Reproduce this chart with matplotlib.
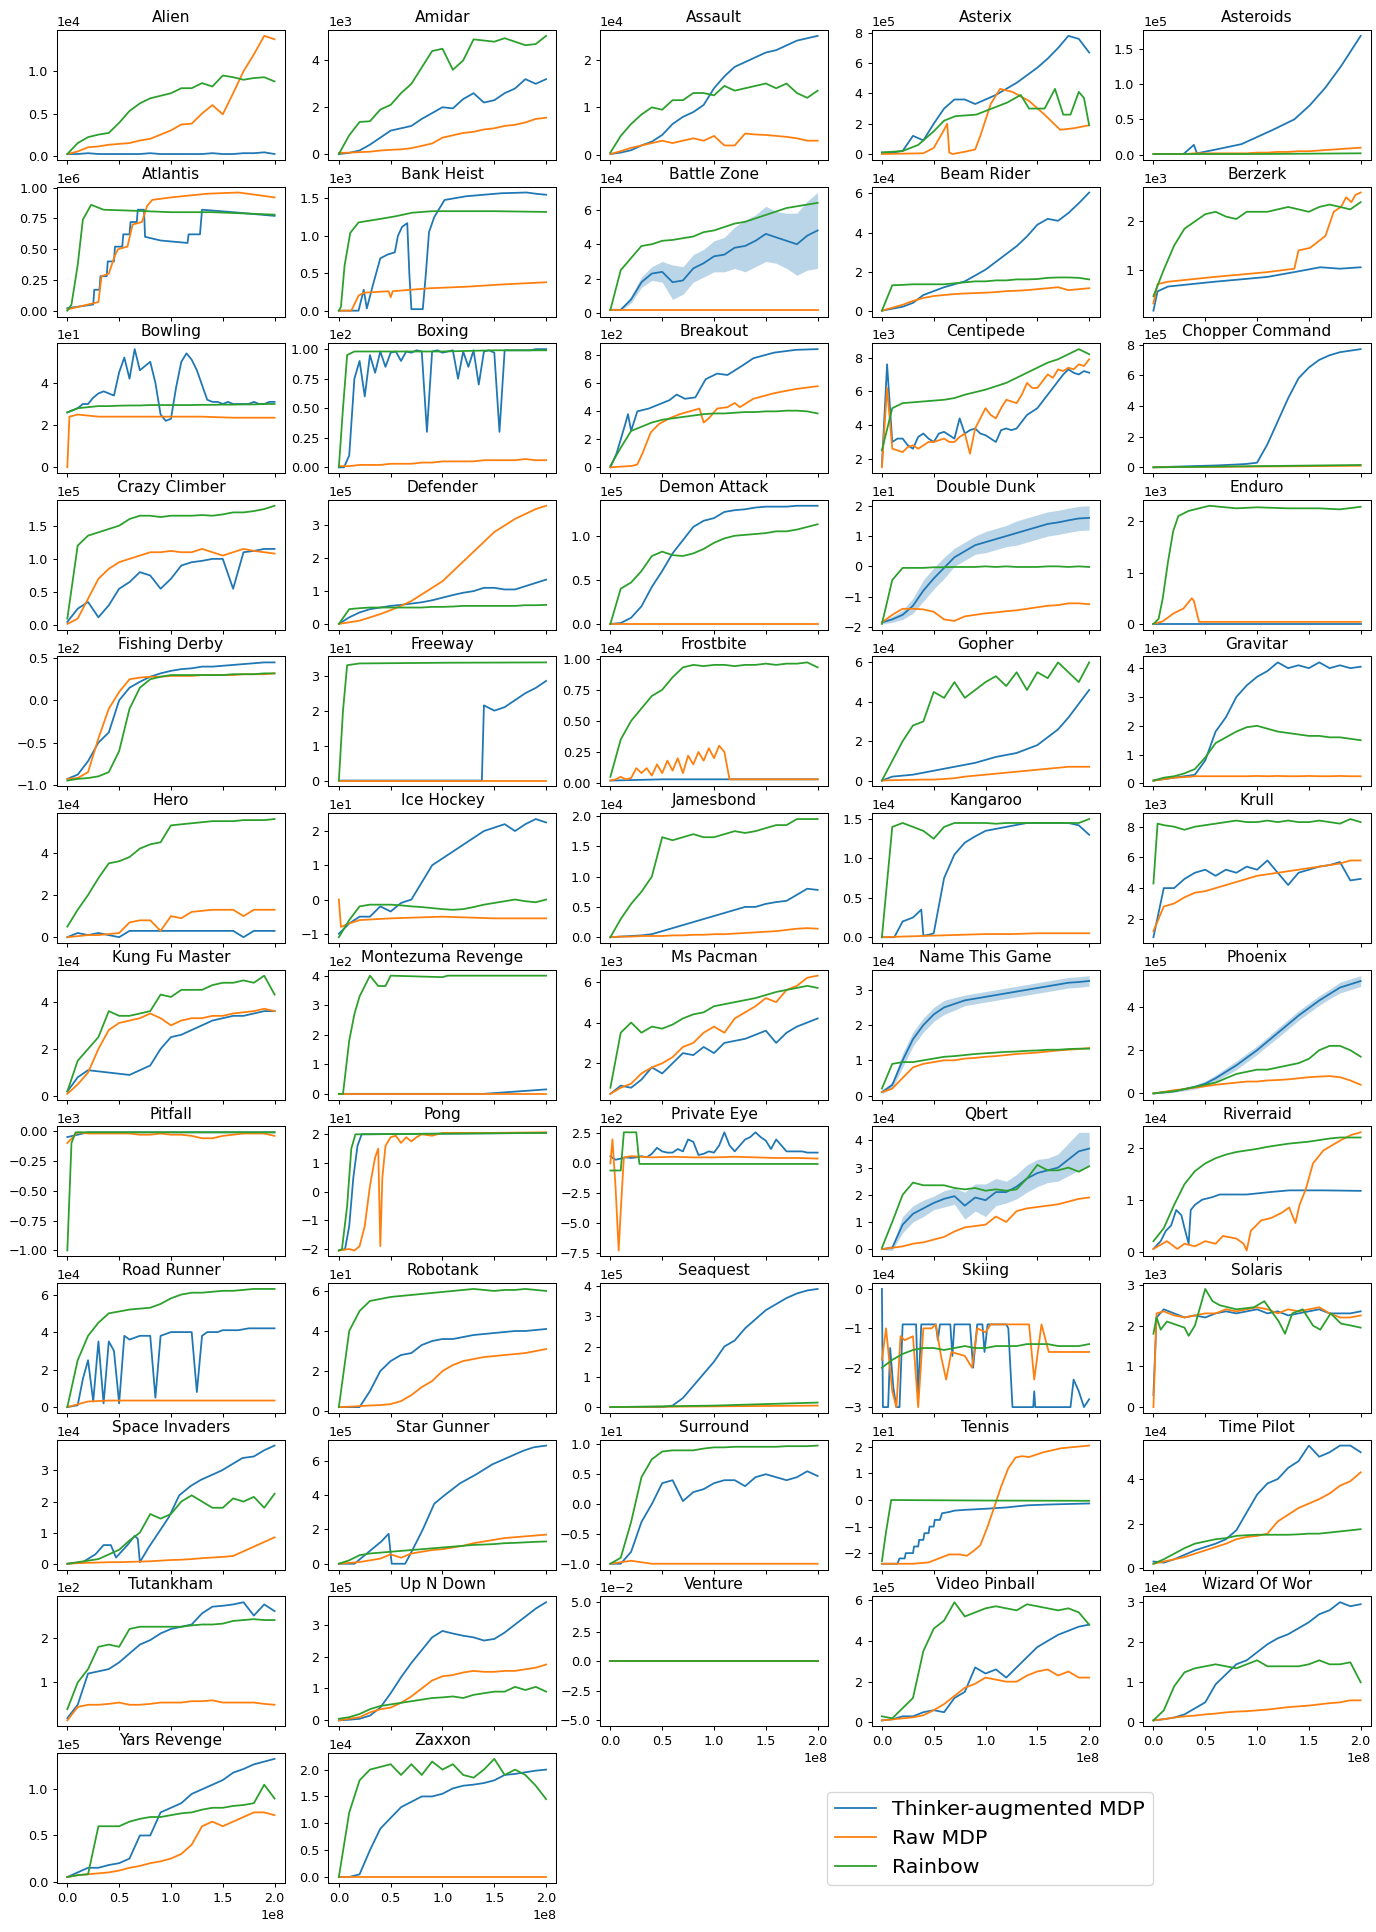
import numpy as np
import matplotlib
matplotlib.use("Agg")
import matplotlib.pyplot as plt

games = ["Alien", "Amidar", "Assault", "Asterix", "Asteroids",
         "Atlantis", "Bank Heist", "Battle Zone", "Beam Rider", "Berzerk",
         "Bowling", "Boxing", "Breakout", "Centipede", "Chopper Command",
         "Crazy Climber", "Defender", "Demon Attack", "Double Dunk", "Enduro",
         "Fishing Derby", "Freeway", "Frostbite", "Gopher", "Gravitar",
         "Hero", "Ice Hockey", "Jamesbond", "Kangaroo", "Krull",
         "Kung Fu Master", "Montezuma Revenge", "Ms Pacman", "Name This Game", "Phoenix",
         "Pitfall", "Pong", "Private Eye", "Qbert", "Riverraid",
         "Road Runner", "Robotank", "Seaquest", "Skiing", "Solaris",
         "Space Invaders", "Star Gunner", "Surround", "Tennis", "Time Pilot",
         "Tutankham", "Up N Down", "Venture", "Video Pinball", "Wizard Of Wor",
         "Yars Revenge", "Zaxxon"]

# scores below are written in units of 10**exp (the offset shown on each panel)
exps = [4, 3, 4, 5, 5,
        6, 3, 4, 4, 3,
        1, 2, 2, 3, 5,
        5, 5, 5, 1, 3,
        2, 1, 4, 4, 3,
        4, 1, 4, 4, 3,
        4, 2, 3, 4, 5,
        3, 1, 2, 4, 4,
        4, 1, 5, 4, 3,
        4, 5, 1, 1, 4,
        2, 5, -2, 5, 4,
        5, 4]

# plain lists are evenly spaced over 0..2e8 frames, (steps, values) pairs use steps in 1e8

alien_thinker = [0.02, 0.02, 0.03, 0.02, 0.02, 0.02, 0.02, 0.02, 0.03, 0.02, 0.02, 0.02, 0.02, 0.02, 0.03, 0.02, 0.02, 0.03, 0.03, 0.04, 0.02]
alien_raw = [0.02, 0.05, 0.1, 0.11, 0.13, 0.14, 0.15, 0.18, 0.2, 0.25, 0.3, 0.37, 0.38, 0.5, 0.6, 0.49, 0.74, 1.0, 1.2, 1.42, 1.38]
alien_rainbow = [0.02, 0.15, 0.22, 0.25, 0.27, 0.39, 0.53, 0.62, 0.68, 0.71, 0.74, 0.8, 0.8, 0.86, 0.82, 0.95, 0.93, 0.9, 0.92, 0.93, 0.88]

amidar_thinker = [0.0, 0.05, 0.15, 0.4, 0.7, 1.0, 1.1, 1.2, 1.5, 1.75, 2.0, 1.95, 2.35, 2.6, 2.2, 2.3, 2.6, 2.8, 3.2, 3.0, 3.2]
amidar_raw = [0.05, 0.06, 0.08, 0.1, 0.15, 0.18, 0.2, 0.25, 0.35, 0.45, 0.7, 0.8, 0.9, 0.95, 1.05, 1.1, 1.2, 1.25, 1.35, 1.5, 1.55]
amidar_rainbow = [0.0, 0.8, 1.37, 1.4, 1.9, 2.1, 2.6, 3.0, 3.7, 4.4, 4.5, 3.6, 4.0, 4.9, 4.85, 4.8, 4.95, 4.8, 4.65, 4.7, 5.05]

assault_thinker = [0.02, 0.05, 0.1, 0.2, 0.28, 0.42, 0.65, 0.8, 0.9, 1.05, 1.4, 1.65, 1.85, 1.95, 2.05, 2.15, 2.2, 2.3, 2.4, 2.45, 2.5]
assault_raw = [0.02, 0.08, 0.15, 0.2, 0.25, 0.3, 0.25, 0.3, 0.35, 0.3, 0.4, 0.2, 0.2, 0.45, 0.43, 0.42, 0.4, 0.38, 0.35, 0.3, 0.3]
assault_rainbow = [0.05, 0.4, 0.65, 0.85, 1.0, 0.95, 1.15, 1.15, 1.3, 1.3, 1.25, 1.45, 1.35, 1.4, 1.45, 1.5, 1.4, 1.5, 1.3, 1.2, 1.35]

asterix_thinker = [0.1, 0.1, 0.2, 1.2, 0.9, 2.0, 3.0, 3.6, 3.6, 3.3, 3.6, 3.9, 4.3, 4.7, 5.2, 5.7, 6.3, 7.0, 7.8, 7.6, 6.7]
asterix_raw_steps = [0, 0.4, 0.5, 0.6, 0.63, 0.65, 0.68, 0.8, 0.9, 0.95, 1.05, 1.14, 1.26, 1.42, 1.57, 1.72, 1.85, 2.0]
asterix_raw = [0.0, 0.05, 0.4, 1.6, 2.0, 0.1, 0.0, 0.15, 0.3, 1.2, 3.3, 4.3, 4.1, 3.5, 2.6, 1.6, 1.7, 1.9]
asterix_rainbow_steps = [0, 0.2, 0.35, 0.5, 0.6, 0.71, 0.91, 1.06, 1.21, 1.34, 1.42, 1.57, 1.67, 1.75, 1.82, 1.9, 1.95, 2.0]
asterix_rainbow = [0.1, 0.2, 0.6, 1.5, 2.2, 2.5, 2.6, 3.0, 3.4, 3.9, 3.0, 3.0, 4.3, 2.6, 2.6, 4.1, 3.7, 1.9]

asteroids_thinker_steps = [0, 0.29, 0.36, 0.39, 0.42, 0.59, 0.85, 1.0, 1.15, 1.36, 1.51, 1.66, 1.81, 2.0]
asteroids_thinker = [0.01, 0.01, 0.1, 0.14, 0.02, 0.07, 0.15, 0.25, 0.35, 0.5, 0.7, 0.95, 1.25, 1.68]
asteroids_raw = [0.01, 0.01, 0.01, 0.01, 0.02, 0.02, 0.02, 0.02, 0.02, 0.02, 0.03, 0.03, 0.04, 0.04, 0.05, 0.05, 0.06, 0.07, 0.08, 0.09, 0.1]
asteroids_rainbow = [0.01, 0.01, 0.01, 0.015, 0.02]

atlantis_thinker_steps = [0, 0.25, 0.26, 0.31, 0.32, 0.38, 0.39, 0.45, 0.46, 0.53, 0.54, 0.6, 0.61, 0.67,
                          0.68, 0.74, 0.75, 0.9, 1.16, 1.17, 1.28, 1.3, 1.6, 2.0]
atlantis_thinker = [0.02, 0.05, 0.17, 0.17, 0.28, 0.28, 0.4, 0.4, 0.52, 0.52, 0.62, 0.62, 0.72, 0.72,
                    0.82, 0.82, 0.6, 0.57, 0.55, 0.62, 0.62, 0.82, 0.8, 0.77]
atlantis_raw_steps = [0, 0.15, 0.3, 0.33, 0.4, 0.46, 0.49, 0.58, 0.63, 0.72, 0.77, 0.82, 1.0, 1.35, 1.65, 1.83, 2.0]
atlantis_raw = [0.01, 0.04, 0.07, 0.28, 0.3, 0.45, 0.5, 0.52, 0.7, 0.72, 0.85, 0.9, 0.92, 0.95, 0.96, 0.94, 0.92]
atlantis_rainbow_steps = [0, 0.04, 0.1, 0.15, 0.23, 0.35, 0.7, 1.0, 1.4, 1.7, 2.0]
atlantis_rainbow = [0.0, 0.05, 0.37, 0.74, 0.86, 0.82, 0.81, 0.8, 0.8, 0.79, 0.78]

bank_heist_thinker_steps = [0, 0.19, 0.24, 0.27, 0.33, 0.37, 0.4, 0.47, 0.54, 0.57, 0.61, 0.66, 0.68, 0.7,
                            0.81, 0.84, 0.87, 0.92, 1.02, 1.23, 1.57, 1.81, 1.92, 2.0]
bank_heist_thinker = [0.0, 0.0, 0.28, 0.03, 0.35, 0.55, 0.7, 0.75, 0.78, 1.0, 1.12, 1.17, 0.5, 0.02,
                      0.02, 0.5, 1.05, 1.25, 1.48, 1.53, 1.57, 1.58, 1.56, 1.55]
bank_heist_raw_steps = [0, 0.12, 0.19, 0.24, 0.48, 0.5, 0.52, 0.88, 1.23, 1.57, 2.0]
bank_heist_raw = [0.0, 0.0, 0.2, 0.24, 0.26, 0.18, 0.26, 0.3, 0.32, 0.35, 0.38]
bank_heist_rainbow_steps = [0, 0.02, 0.055, 0.11, 0.19, 0.37, 0.54, 0.71, 0.9, 1.5, 2.0]
bank_heist_rainbow = [0.0, 0.05, 0.6, 1.04, 1.18, 1.22, 1.26, 1.31, 1.33, 1.33, 1.32]

battle_zone_thinker = [0.2, 0.2, 0.8, 1.8, 2.3, 2.4, 1.8, 1.9, 2.6, 2.9, 3.3, 3.4, 3.8, 3.9, 4.2, 4.6, 4.4, 4.2, 4.0, 4.5, 4.8]
battle_zone_band = [0.0, 0.05, 0.2, 0.3, 0.4, 0.6, 1.0, 0.8, 0.8, 0.8, 0.9, 1.0, 1.2, 1.5, 1.5, 1.6, 1.5, 1.6, 1.8, 2.0, 2.2]
battle_zone_raw = [0.2, 0.2, 0.2, 0.2, 0.2]
battle_zone_rainbow = [0.2, 2.5, 3.2, 3.9, 4.0, 4.2, 4.25, 4.35, 4.45, 4.7, 4.8, 5.0, 5.2, 5.3, 5.5, 5.7, 5.9, 6.1, 6.2, 6.3, 6.4]

beam_rider_thinker = [0.0, 0.1, 0.2, 0.4, 0.8, 1.0, 1.2, 1.35, 1.5, 1.8, 2.1, 2.5, 2.9, 3.3, 3.8, 4.4, 4.7, 4.6, 5.0, 5.5, 6.05]
beam_rider_raw = [0.0, 0.15, 0.3, 0.5, 0.65, 0.75, 0.8, 0.85, 0.88, 0.9, 0.92, 0.95, 1.0, 1.02, 1.05, 1.1, 1.15, 1.2, 1.05, 1.1, 1.15]
beam_rider_rainbow = [0.0, 1.3, 1.32, 1.35, 1.35, 1.35, 1.35, 1.4, 1.45, 1.5, 1.5, 1.55, 1.55, 1.6, 1.6, 1.62, 1.68, 1.7, 1.7, 1.68, 1.6]

berzerk_thinker_steps = [0, 0.04, 0.14, 0.59, 0.85, 1.1, 1.36, 1.61, 1.8, 2.0]
berzerk_thinker = [0.15, 0.55, 0.65, 0.75, 0.8, 0.85, 0.95, 1.05, 1.02, 1.05]
berzerk_raw_steps = [0, 0.04, 0.14, 0.59, 0.85, 1.1, 1.36, 1.4, 1.51, 1.66, 1.74, 1.81, 1.86, 1.91, 1.95, 2.0]
berzerk_raw = [0.3, 0.7, 0.75, 0.85, 0.9, 0.95, 1.02, 1.4, 1.45, 1.7, 2.2, 2.3, 2.5, 2.4, 2.55, 2.6]
berzerk_rainbow = [0.45, 1.0, 1.5, 1.85, 2.0, 2.15, 2.2, 2.1, 2.05, 2.2, 2.2, 2.2, 2.25, 2.3, 2.25, 2.2, 2.3, 2.35, 2.3, 2.25, 2.4]

bowling_thinker = [2.6, 2.7, 2.8, 3.0, 3.0, 3.3, 3.5, 3.6, 3.5, 3.4,
                   4.5, 5.2, 4.2, 5.6, 4.6, 4.8, 5.0, 4.0, 2.5, 2.2,
                   2.3, 3.8, 5.0, 5.4, 5.1, 4.6, 3.9, 3.2, 3.1, 3.1,
                   3.0, 3.1, 3.0, 3.0, 3.0, 3.0, 3.1, 3.0, 3.0, 3.1,
                   3.1]
bowling_raw_steps = [0, 0.02, 0.1, 0.2, 0.3, 0.5, 0.7, 1.0, 1.3, 1.6, 2.0]
bowling_raw = [0.0, 2.4, 2.5, 2.45, 2.4, 2.4, 2.4, 2.4, 2.4, 2.35, 2.35]
bowling_rainbow = [2.6, 2.8, 2.85, 2.9, 2.9, 2.92, 2.93, 2.93, 2.95, 2.95, 2.95, 2.95, 2.95, 2.96, 2.96, 2.97, 2.97, 2.98, 2.98, 3.0, 3.0]

boxing_thinker = [0.0, 0.0, 0.1, 0.75, 0.9, 0.6, 0.95, 0.8, 0.98, 0.85,
                  0.97, 0.98, 0.9, 0.98, 0.97, 0.99, 0.98, 0.3, 0.98, 0.99,
                  0.97, 0.98, 0.99, 0.75, 0.98, 0.85, 0.99, 0.7, 0.98, 0.99,
                  0.97, 0.3, 0.99, 0.99, 0.99, 0.99, 0.99, 0.99, 1.0, 1.0,
                  1.0]
boxing_raw = [0.01, 0.01, 0.02, 0.02, 0.02, 0.03, 0.03, 0.03, 0.04, 0.04, 0.05, 0.05, 0.05, 0.05, 0.06, 0.06, 0.06, 0.06, 0.07, 0.06, 0.06]
boxing_rainbow_steps = [0, 0.04, 0.08, 0.15, 0.5, 1.0, 1.5, 2.0]
boxing_rainbow = [0.0, 0.5, 0.95, 0.98, 0.98, 0.98, 0.99, 0.99]

breakout_thinker_steps = [0, 0.06, 0.14, 0.17, 0.2, 0.26, 0.37, 0.47, 0.57, 0.64, 0.72, 0.82, 0.92, 1.03, 1.13, 1.28, 1.38, 1.58, 1.79, 2.0]
breakout_thinker = [0.0, 1.0, 3.0, 3.8, 2.6, 4.0, 4.2, 4.5, 4.8, 5.2, 4.9, 5.0, 6.3, 6.7, 6.6, 7.3, 7.8, 8.2, 8.4, 8.45]
breakout_raw_steps = [0, 0.21, 0.26, 0.31, 0.39, 0.47, 0.57, 0.67, 0.86, 0.9, 0.95, 1.03, 1.13, 1.2, 1.25, 1.38, 1.58, 1.79, 2.0]
breakout_raw = [0.0, 0.1, 0.2, 1.0, 2.5, 3.1, 3.5, 3.8, 4.2, 3.2, 3.5, 4.2, 4.3, 4.6, 4.3, 4.9, 5.3, 5.6, 5.8]
breakout_rainbow = [0.1, 1.4, 2.6, 2.9, 3.2, 3.4, 3.5, 3.6, 3.7, 3.8, 3.85, 3.85, 3.9, 3.95, 3.95, 4.0, 4.0, 4.05, 4.05, 4.0, 3.85]

centipede_thinker = [1.6, 7.6, 3.0, 3.2, 3.2, 2.8, 2.6, 3.3, 3.5, 3.2,
                     3.0, 3.5, 3.6, 3.4, 3.2, 4.4, 3.5, 3.7, 3.8, 3.5,
                     3.4, 3.2, 3.0, 3.7, 3.8, 3.7, 3.8, 4.2, 4.6, 4.8,
                     5.0, 5.4, 5.8, 6.2, 6.6, 7.0, 7.3, 7.1, 7.0, 7.2,
                     7.1]
centipede_raw = [1.5, 6.2, 2.6, 2.5, 2.4, 2.7, 2.8, 2.6, 2.8, 3.0,
                 3.0, 3.1, 3.2, 3.0, 3.0, 3.3, 3.5, 2.3, 3.8, 4.4,
                 5.0, 4.6, 4.4, 5.0, 5.5, 5.4, 5.3, 5.8, 6.5, 6.2,
                 6.2, 6.6, 7.0, 6.8, 7.3, 7.2, 7.4, 7.3, 7.6, 7.5,
                 7.9]
centipede_rainbow = [2.5, 5.0, 5.3, 5.35, 5.4, 5.45, 5.5, 5.6, 5.8, 5.95, 6.1, 6.3, 6.5, 6.8, 7.1, 7.4, 7.7, 7.9, 8.2, 8.5, 8.2]

chopper_thinker = [0.0, 0.02, 0.04, 0.06, 0.08, 0.1, 0.12, 0.15, 0.18, 0.22, 0.3, 1.5, 3.0, 4.5, 5.8, 6.5, 7.0, 7.3, 7.5, 7.6, 7.7]
chopper_raw = [0.0, 0.02, 0.04, 0.06, 0.08, 0.1]
chopper_rainbow = [0.0, 0.03, 0.06, 0.09, 0.12, 0.15]

crazy_climber_thinker = [0.05, 0.25, 0.35, 0.12, 0.3, 0.55, 0.65, 0.8, 0.75, 0.55, 0.7, 0.9, 0.95, 0.97, 1.0, 1.0, 0.55, 1.1, 1.12, 1.15, 1.15]
crazy_climber_raw = [0.02, 0.1, 0.4, 0.7, 0.85, 0.95, 1.0, 1.05, 1.1, 1.1, 1.12, 1.1, 1.1, 1.15, 1.1, 1.05, 1.1, 1.15, 1.12, 1.1, 1.08]
crazy_climber_rainbow = [0.1, 1.2, 1.35, 1.4, 1.45, 1.5, 1.6, 1.65, 1.65, 1.63, 1.65, 1.65, 1.65, 1.66, 1.65, 1.67, 1.7, 1.7, 1.72, 1.75, 1.8]

defender_thinker = [0.0, 0.2, 0.35, 0.45, 0.5, 0.55, 0.58, 0.62, 0.66, 0.72, 0.8, 0.88, 0.95, 1.0, 1.1, 1.1, 1.05, 1.05, 1.15, 1.25, 1.35]
defender_raw = [0.0, 0.05, 0.1, 0.2, 0.3, 0.42, 0.55, 0.7, 0.9, 1.1, 1.3, 1.6, 1.9, 2.2, 2.5, 2.8, 3.0, 3.2, 3.35, 3.5, 3.6]
defender_rainbow = [0.0, 0.45, 0.48, 0.5, 0.5, 0.5, 0.5, 0.5, 0.5, 0.52, 0.52, 0.53, 0.55, 0.55, 0.55, 0.55, 0.55, 0.55, 0.57, 0.57, 0.58]

demon_attack_thinker = [0.0, 0.01, 0.07, 0.2, 0.42, 0.6, 0.8, 0.95, 1.1, 1.17, 1.2, 1.27, 1.29, 1.3, 1.32, 1.33, 1.33, 1.33, 1.34, 1.34, 1.34]
demon_attack_raw = [0.0, 0.0, 0.0, 0.0, 0.0]
demon_attack_rainbow = [0.0, 0.4, 0.47, 0.6, 0.77, 0.82, 0.78, 0.77, 0.8, 0.85, 0.92, 0.97, 1.0, 1.01, 1.02, 1.03, 1.05, 1.05, 1.07, 1.1, 1.13]

double_dunk_thinker = [-1.85, -1.75, -1.6, -1.3, -0.8, -0.4, -0.05, 0.3, 0.5, 0.7, 0.8, 0.9, 1.0, 1.1, 1.2, 1.3, 1.4, 1.45, 1.52, 1.58, 1.6]
double_dunk_band = [0.05, 0.1, 0.15, 0.25, 0.35, 0.35, 0.35, 0.3, 0.3, 0.3, 0.35, 0.35, 0.35, 0.4, 0.4, 0.4, 0.4, 0.4, 0.4, 0.4, 0.4]
double_dunk_raw = [-1.85, -1.6, -1.4, -1.4, -1.42, -1.5, -1.75, -1.8, -1.65, -1.6, -1.55, -1.52, -1.48, -1.45, -1.4, -1.35, -1.3, -1.28, -1.22, -1.22, -1.25]
double_dunk_rainbow = [-1.9, -0.45, -0.05, -0.05, -0.05, -0.03, -0.03, -0.02, -0.02, -0.02, 0.0, -0.02, 0.0, -0.02, -0.02, -0.02, 0.0, 0.0, -0.02, 0.0, -0.02]

enduro_thinker = [0.0, 0.0, 0.0, 0.0, 0.0]
enduro_raw_steps = [0, 0.09, 0.19, 0.29, 0.37, 0.39, 0.44, 2.0]
enduro_raw = [0.0, 0.05, 0.2, 0.3, 0.5, 0.45, 0.04, 0.04]
enduro_rainbow_steps = [0, 0.05, 0.09, 0.14, 0.19, 0.24, 0.34, 0.54, 0.8, 1.0, 1.3, 1.6, 1.8, 2.0]
enduro_rainbow = [0.0, 0.1, 0.5, 1.2, 1.8, 2.1, 2.2, 2.3, 2.25, 2.27, 2.25, 2.25, 2.23, 2.28]

fishing_derby_thinker = [-0.93, -0.88, -0.72, -0.5, -0.38, 0.0, 0.15, 0.22, 0.28, 0.32, 0.35, 0.37, 0.38, 0.4, 0.4, 0.41, 0.42, 0.43, 0.44, 0.45, 0.45]
fishing_derby_raw = [-0.93, -0.92, -0.85, -0.45, -0.1, 0.1, 0.25, 0.27, 0.28, 0.28, 0.29, 0.29, 0.29, 0.3, 0.3, 0.3, 0.3, 0.31, 0.31, 0.31, 0.32]
fishing_derby_rainbow = [-0.95, -0.93, -0.92, -0.9, -0.85, -0.6, -0.1, 0.15, 0.25, 0.28, 0.3, 0.3, 0.3, 0.3, 0.3, 0.3, 0.31, 0.31, 0.31, 0.32, 0.32]

freeway_thinker_steps = [0, 1.38, 1.4, 1.5, 1.6, 1.7, 1.8, 1.9, 2.0]
freeway_thinker = [0.0, 0.0, 2.15, 2.0, 2.1, 2.3, 2.5, 2.65, 2.85]
freeway_raw = [0.0, 0.0, 0.0, 0.0, 0.0]
freeway_rainbow_steps = [0, 0.04, 0.08, 0.2, 1.0, 2.0]
freeway_rainbow = [0.0, 2.0, 3.3, 3.35, 3.37, 3.38]

frostbite_thinker = [0.02, 0.03, 0.03, 0.03, 0.03]
frostbite_raw_steps = [0, 0.05, 0.1, 0.15, 0.2, 0.25, 0.3, 0.35, 0.4, 0.45, 0.5, 0.55, 0.6, 0.65, 0.7,
                       0.75, 0.8, 0.85, 0.9, 0.95, 1.0, 1.05, 1.1, 1.15, 2.0]
frostbite_raw = [0.02, 0.03, 0.05, 0.03, 0.04, 0.12, 0.08, 0.12, 0.06, 0.15, 0.08, 0.18, 0.1, 0.2, 0.08,
                 0.22, 0.15, 0.25, 0.18, 0.28, 0.2, 0.3, 0.25, 0.03, 0.03]
frostbite_rainbow = [0.05, 0.35, 0.5, 0.6, 0.7, 0.75, 0.85, 0.93, 0.95, 0.94, 0.95, 0.95, 0.94, 0.95, 0.95, 0.96, 0.95, 0.96, 0.96, 0.97, 0.93]

gopher_thinker = [0.0, 0.2, 0.25, 0.3, 0.4, 0.5, 0.6, 0.7, 0.8, 0.9, 1.05, 1.2, 1.3, 1.4, 1.6, 1.8, 2.2, 2.6, 3.2, 3.9, 4.6]
gopher_raw = [0.0, 0.02, 0.03, 0.04, 0.05, 0.05, 0.08, 0.12, 0.2, 0.25, 0.3, 0.35, 0.4, 0.45, 0.5, 0.55, 0.6, 0.65, 0.7, 0.7, 0.7]
gopher_rainbow = [0.0, 1.0, 2.0, 2.8, 3.0, 4.5, 4.2, 5.0, 4.2, 4.6, 5.0, 5.3, 4.8, 5.5, 4.6, 5.5, 5.2, 6.0, 5.5, 5.0, 6.0]

gravitar_thinker = [0.1, 0.15, 0.2, 0.25, 0.3, 0.8, 1.8, 2.3, 3.0, 3.4, 3.7, 3.9, 4.2, 4.0, 4.1, 4.0, 4.2, 4.0, 4.1, 4.0, 4.05]
gravitar_raw = [0.1, 0.15, 0.2, 0.22, 0.25, 0.25, 0.25, 0.25, 0.25, 0.25, 0.26, 0.25, 0.26, 0.25, 0.25, 0.26, 0.25, 0.25, 0.26, 0.25, 0.25]
gravitar_rainbow = [0.1, 0.2, 0.25, 0.35, 0.5, 0.9, 1.4, 1.6, 1.8, 1.95, 2.0, 1.9, 1.8, 1.75, 1.7, 1.65, 1.65, 1.6, 1.6, 1.55, 1.5]

hero_thinker = [0.0, 0.2, 0.1, 0.2, 0.1, 0.0, 0.3, 0.3, 0.3, 0.3, 0.3, 0.3, 0.3, 0.3, 0.3, 0.3, 0.3, 0.0, 0.3, 0.3, 0.3]
hero_raw = [0.0, 0.05, 0.1, 0.1, 0.15, 0.2, 0.7, 0.8, 0.8, 0.3, 1.0, 0.9, 1.2, 1.25, 1.3, 1.3, 1.3, 1.0, 1.3, 1.3, 1.3]
hero_rainbow = [0.5, 1.3, 2.0, 2.8, 3.5, 3.6, 3.8, 4.2, 4.4, 4.5, 5.3, 5.35, 5.4, 5.45, 5.5, 5.5, 5.5, 5.55, 5.55, 5.55, 5.6]

ice_hockey_thinker = [-1.0, -0.7, -0.5, -0.5, -0.2, -0.35, -0.1, 0.0, 0.5, 1.0, 1.2, 1.4, 1.6, 1.8, 2.0, 2.1, 2.2, 2.0, 2.2, 2.35, 2.25]
ice_hockey_raw_steps = [0, 0.02, 0.1, 0.2, 0.5, 1.0, 1.5, 2.0]
ice_hockey_raw = [0.0, -0.8, -0.7, -0.6, -0.55, -0.5, -0.55, -0.55]
ice_hockey_rainbow = [-1.1, -0.6, -0.2, -0.15, -0.15, -0.15, -0.17, -0.2, -0.22, -0.25, -0.28, -0.3, -0.28, -0.22, -0.15, -0.1, -0.05, 0.0, -0.05, -0.08, 0.0]

jamesbond_thinker = [0.0, 0.01, 0.02, 0.03, 0.05, 0.1, 0.15, 0.2, 0.25, 0.3, 0.35, 0.4, 0.45, 0.5, 0.5, 0.55, 0.58, 0.6, 0.7, 0.8, 0.78]
jamesbond_raw = [0.0, 0.01, 0.01, 0.02, 0.02, 0.02, 0.03, 0.03, 0.04, 0.04, 0.05, 0.05, 0.06, 0.07, 0.08, 0.09, 0.1, 0.12, 0.14, 0.15, 0.14]
jamesbond_rainbow = [0.0, 0.3, 0.55, 0.75, 1.0, 1.65, 1.6, 1.65, 1.7, 1.65, 1.65, 1.7, 1.75, 1.72, 1.75, 1.8, 1.85, 1.85, 1.95, 1.95, 1.95]

kangaroo_thinker_steps = [0, 0.12, 0.2, 0.3, 0.38, 0.4, 0.45, 0.5, 0.55, 0.6, 0.65, 0.7, 0.8, 0.9, 1.0, 1.2, 1.4, 1.6, 1.8, 1.9, 2.0]
kangaroo_thinker = [0.0, 0.0, 0.2, 0.25, 0.35, 0.02, 0.03, 0.05, 0.4, 0.75, 0.9, 1.05, 1.2, 1.28, 1.35, 1.4, 1.45, 1.45, 1.45, 1.42, 1.3]
kangaroo_raw = [0.0, 0.01, 0.02, 0.03, 0.04, 0.04, 0.05, 0.05, 0.05]
kangaroo_rainbow = [0.0, 1.4, 1.45, 1.4, 1.35, 1.25, 1.4, 1.45, 1.45, 1.45, 1.45, 1.44, 1.45, 1.45, 1.45, 1.45, 1.45, 1.45, 1.45, 1.45, 1.5]

krull_thinker = [0.8, 4.0, 4.0, 4.6, 5.0, 5.2, 4.8, 5.2, 5.0, 5.4, 5.2, 5.8, 5.0, 4.2, 5.0, 5.2, 5.4, 5.5, 5.7, 4.5, 4.6]
krull_raw = [1.2, 2.8, 3.0, 3.4, 3.7, 3.8, 4.0, 4.2, 4.4, 4.6, 4.8, 4.9, 5.0, 5.1, 5.2, 5.3, 5.4, 5.5, 5.6, 5.8, 5.8]
krull_rainbow_steps = [0, 0.04, 0.1, 0.2, 0.3, 0.4, 0.5, 0.6, 0.7, 0.8, 0.9, 1.0, 1.1, 1.2, 1.3, 1.4, 1.5, 1.6, 1.7, 1.8, 1.9, 2.0]
krull_rainbow = [4.3, 8.2, 8.1, 8.0, 7.8, 8.0, 8.1, 8.2, 8.3, 8.4, 8.3, 8.3, 8.4, 8.3, 8.4, 8.3, 8.3, 8.4, 8.3, 8.2, 8.5, 8.3]

kung_fu_thinker = [0.2, 0.8, 1.1, 1.05, 1.0, 0.95, 0.9, 1.1, 1.3, 2.0, 2.5, 2.6, 2.8, 3.0, 3.2, 3.3, 3.4, 3.4, 3.5, 3.6, 3.6]
kung_fu_raw = [0.1, 0.5, 1.0, 2.0, 2.8, 3.1, 3.2, 3.3, 3.5, 3.3, 3.0, 3.2, 3.3, 3.3, 3.4, 3.4, 3.5, 3.55, 3.6, 3.7, 3.6]
kung_fu_rainbow = [0.2, 1.5, 2.0, 2.5, 3.6, 3.4, 3.4, 3.5, 3.6, 4.3, 4.2, 4.5, 4.5, 4.5, 4.7, 4.8, 4.8, 4.9, 4.8, 5.1, 4.3]

montezuma_thinker = [0.0, 0.0, 0.0, 0.0, 0.0, 0.0, 0.0, 0.0, 0.05, 0.1, 0.15]
montezuma_raw = [0.0, 0.0, 0.0, 0.0, 0.0]
montezuma_rainbow_steps = [0, 0.04, 0.1, 0.15, 0.2, 0.3, 0.38, 0.45, 0.5, 1.0, 1.05, 2.0]
montezuma_rainbow = [0.0, 0.0, 1.8, 2.7, 3.3, 4.0, 3.65, 3.65, 4.0, 3.95, 4.0, 4.0]

ms_pacman_thinker = [0.5, 0.9, 0.8, 1.2, 1.8, 1.5, 2.0, 2.5, 2.4, 2.8, 2.5, 3.0, 3.1, 3.2, 3.4, 3.6, 3.0, 3.5, 3.8, 4.0, 4.2]
ms_pacman_raw = [0.5, 0.8, 1.0, 1.5, 1.8, 2.0, 2.3, 2.8, 3.0, 3.5, 3.8, 3.5, 4.2, 4.5, 4.8, 5.2, 5.0, 5.6, 5.8, 6.2, 6.3]
ms_pacman_rainbow = [0.8, 3.5, 4.0, 3.5, 3.8, 3.7, 3.9, 4.2, 4.4, 4.5, 4.8, 4.9, 5.0, 5.1, 5.2, 5.35, 5.5, 5.6, 5.7, 5.8, 5.7]

name_this_game_thinker = [0.1, 0.3, 1.0, 1.6, 2.0, 2.3, 2.5, 2.6, 2.7, 2.75, 2.8, 2.85, 2.9, 2.95, 3.0, 3.05, 3.1, 3.15, 3.2, 3.22, 3.25]
name_this_game_band = [0.05, 0.1, 0.2, 0.2, 0.2, 0.2, 0.2, 0.18, 0.15, 0.15, 0.15, 0.15, 0.15, 0.15, 0.15, 0.15, 0.15, 0.15, 0.15, 0.15, 0.15]
name_this_game_raw = [0.1, 0.2, 0.5, 0.8, 0.9, 0.95, 1.0, 1.0, 1.05, 1.07, 1.1, 1.12, 1.15, 1.18, 1.2, 1.22, 1.25, 1.28, 1.3, 1.32, 1.35]
name_this_game_rainbow = [0.2, 0.9, 0.95, 0.95, 1.0, 1.05, 1.1, 1.12, 1.15, 1.18, 1.2, 1.22, 1.24, 1.25, 1.27, 1.28, 1.3, 1.3, 1.32, 1.33, 1.33]

phoenix_thinker = [0.0, 0.05, 0.1, 0.2, 0.3, 0.45, 0.7, 1.0, 1.3, 1.65, 2.0, 2.4, 2.8, 3.2, 3.6, 3.95, 4.3, 4.6, 4.9, 5.05, 5.2]
phoenix_band = [0.02, 0.05, 0.05, 0.08, 0.1, 0.12, 0.15, 0.18, 0.2, 0.2, 0.2, 0.2, 0.22, 0.22, 0.22, 0.22, 0.22, 0.22, 0.25, 0.25, 0.25]
phoenix_raw = [0.0, 0.07, 0.15, 0.2, 0.27, 0.33, 0.4, 0.45, 0.5, 0.55, 0.55, 0.6, 0.62, 0.65, 0.7, 0.75, 0.78, 0.8, 0.75, 0.6, 0.4]
phoenix_rainbow = [0.0, 0.05, 0.1, 0.2, 0.3, 0.4, 0.5, 0.7, 0.9, 1.0, 1.1, 1.1, 1.2, 1.3, 1.4, 1.6, 2.0, 2.2, 2.2, 2.0, 1.7]

pitfall_thinker = [-0.05, -0.01, -0.01, -0.01, -0.01, -0.01, -0.01, -0.01, -0.01, -0.01, -0.01]
pitfall_raw = [-0.1, -0.01, -0.02, -0.02, -0.02, -0.02, -0.02, -0.03, -0.03, -0.02, -0.03, -0.03, -0.04, -0.06, -0.06, -0.04, -0.03, -0.02, -0.02, -0.02, -0.04]
pitfall_rainbow_steps = [0, 0.04, 0.08, 2.0]
pitfall_rainbow = [-1.0, -0.1, -0.01, -0.01]

pong_thinker_steps = [0, 0.06, 0.1, 0.14, 0.18, 0.22, 2.0]
pong_thinker = [-2.05, -2.0, -1.2, 0.5, 1.6, 2.0, 2.05]
pong_raw_steps = [0, 0.1, 0.15, 0.2, 0.25, 0.3, 0.35, 0.38, 0.4, 0.42, 0.45, 0.5, 0.55, 0.6, 0.65, 0.7, 0.75, 0.8, 0.9, 1.0, 1.5, 2.0]
pong_raw = [-2.05, -2.0, -2.05, -1.9, -1.2, 0.2, 1.2, 1.5, -1.9, 0.5, 1.6, 1.9, 1.95, 1.7, 1.9, 1.75, 1.9, 2.0, 1.95, 2.05, 2.05, 2.07]
pong_rainbow_steps = [0, 0.03, 0.08, 0.12, 0.16, 2.0]
pong_rainbow = [-2.05, -2.0, -0.5, 1.5, 2.0, 2.05]

private_eye_thinker = [0.6, 0.3, 0.4, 0.5, 0.45, 0.5, 0.6, 0.5, 0.8, 1.3,
                       1.0, 0.9, 0.9, 1.2, 1.0, 2.0, 1.8, 0.7, 0.8, 1.0,
                       0.9, 1.5, 2.6, 1.5, 1.0, 1.5, 2.0, 2.2, 2.6, 2.2,
                       1.9, 1.2, 2.0, 1.5, 1.0, 1.0, 1.0, 1.0, 0.9, 0.9,
                       0.9]
private_eye_raw_steps = [0, 0.02, 0.05, 0.08, 0.1, 0.13, 0.2, 0.4, 0.6, 0.8, 1.0, 1.2, 1.4, 1.6, 1.8, 2.0]
private_eye_raw = [0.0, 2.0, -2.0, -7.3, -4.0, 0.5, 0.6, 0.5, 0.55, 0.5, 0.5, 0.55, 0.5, 0.45, 0.45, 0.4]
private_eye_rainbow_steps = [0, 0.1, 0.13, 0.25, 0.28, 0.5, 1.0, 1.5, 2.0]
private_eye_rainbow = [-0.6, -0.6, 2.6, 2.6, -0.05, -0.05, -0.05, -0.05, -0.05]

qbert_thinker = [0.0, 0.05, 0.9, 1.3, 1.5, 1.7, 1.85, 1.95, 1.6, 1.9, 1.8, 2.1, 2.1, 2.3, 2.6, 2.8, 2.9, 3.0, 3.3, 3.6, 3.7]
qbert_band = [0.02, 0.1, 0.3, 0.3, 0.3, 0.25, 0.3, 0.3, 0.5, 0.5, 0.6, 0.5, 0.4, 0.45, 0.5, 0.5, 0.45, 0.5, 0.6, 0.7, 0.6]
qbert_raw = [0.0, 0.05, 0.1, 0.2, 0.25, 0.35, 0.45, 0.65, 0.8, 0.85, 0.9, 1.2, 1.0, 1.4, 1.5, 1.55, 1.6, 1.65, 1.75, 1.85, 1.9]
qbert_rainbow = [0.05, 1.0, 2.0, 2.45, 2.35, 2.35, 2.35, 2.25, 2.2, 2.25, 2.15, 2.2, 2.15, 2.2, 2.6, 3.1, 2.9, 2.9, 3.0, 2.85, 3.05]

riverraid_thinker_steps = [0, 0.07, 0.12, 0.17, 0.22, 0.27, 0.3, 0.34, 0.36, 0.4, 0.47, 0.57, 0.64, 0.9, 1.14, 1.31, 1.64, 2.0]
riverraid_thinker = [0.05, 0.2, 0.4, 0.5, 0.8, 0.7, 0.45, 0.15, 0.8, 0.9, 1.0, 1.05, 1.1, 1.1, 1.15, 1.18, 1.18, 1.17]
riverraid_raw_steps = [0, 0.13, 0.23, 0.3, 0.4, 0.5, 0.6, 0.67, 0.8, 0.87, 0.9, 0.94, 1.04, 1.14, 1.24, 1.31,
                       1.37, 1.41, 1.47, 1.54, 1.64, 1.81, 1.91, 2.0]
riverraid_raw = [0.05, 0.2, 0.05, 0.15, 0.1, 0.2, 0.15, 0.3, 0.25, 0.15, 0.02, 0.4, 0.6, 0.65, 0.75, 0.85,
                 0.55, 0.9, 1.2, 1.7, 1.95, 2.15, 2.25, 2.3]
riverraid_rainbow = [0.2, 0.45, 0.9, 1.3, 1.55, 1.7, 1.8, 1.87, 1.92, 1.95, 1.98, 2.02, 2.05, 2.08, 2.1, 2.12, 2.15, 2.18, 2.2, 2.2, 2.2]

road_runner_thinker = [0.0, 0.05, 0.1, 1.5, 2.5, 0.3, 3.5, 0.2, 3.5, 3.0,
                       0.2, 3.8, 3.6, 3.7, 3.8, 3.8, 3.8, 0.5, 3.8, 3.9,
                       4.0, 4.0, 4.0, 4.0, 4.0, 0.8, 3.8, 4.0, 4.0, 4.0,
                       4.1, 4.1, 4.1, 4.1, 4.15, 4.2, 4.2, 4.2, 4.2, 4.2,
                       4.2]
road_runner_raw = [0.0, 0.3, 0.35, 0.35, 0.35, 0.35, 0.35, 0.35, 0.35, 0.35, 0.35]
road_runner_rainbow = [0.0, 2.5, 3.8, 4.5, 5.0, 5.1, 5.2, 5.25, 5.3, 5.5, 5.8, 6.0, 6.1, 6.1, 6.15, 6.2, 6.2, 6.25, 6.3, 6.3, 6.3]

robotank_thinker = [0.2, 0.2, 0.2, 1.0, 2.0, 2.5, 2.8, 2.9, 3.3, 3.5, 3.6, 3.6, 3.7, 3.8, 3.85, 3.9, 3.95, 4.0, 4.0, 4.05, 4.1]
robotank_raw = [0.2, 0.22, 0.25, 0.28, 0.3, 0.35, 0.5, 0.8, 1.2, 1.5, 2.0, 2.3, 2.5, 2.6, 2.7, 2.75, 2.8, 2.85, 2.9, 3.0, 3.1]
robotank_rainbow = [0.2, 4.0, 5.0, 5.5, 5.6, 5.7, 5.75, 5.8, 5.85, 5.9, 5.95, 6.0, 6.05, 6.1, 6.05, 6.0, 6.05, 6.05, 6.1, 6.05, 6.0]

seaquest_thinker = [0.0, 0.0, 0.0, 0.0, 0.0, 0.0, 0.05, 0.3, 0.7, 1.1, 1.5, 2.0, 2.2, 2.6, 2.9, 3.2, 3.4, 3.6, 3.75, 3.85, 3.9]
seaquest_raw = [0.0, 0.01, 0.02, 0.03, 0.04, 0.05]
seaquest_rainbow = [0.0, 0.01, 0.02, 0.03, 0.04, 0.05, 0.07, 0.09, 0.11, 0.13, 0.15]

skiing_thinker_steps = [0, 0.01, 0.06, 0.08, 0.11, 0.14, 0.17, 0.2, 0.33, 0.35,
                        0.38, 0.52, 0.54, 0.56, 0.66, 0.68, 0.7, 0.85, 0.88, 0.92,
                        0.97, 0.99, 1.02, 1.2, 1.22, 1.26, 1.46, 1.47, 1.48, 1.5,
                        1.82, 1.85, 1.9, 1.95, 2.0]
skiing_thinker = [0.0, -3.0, -3.0, -1.5, -2.5, -3.0, -3.0, -0.9, -0.9, -2.7,
                  -0.9, -0.9, -1.3, -0.9, -0.9, -1.7, -0.9, -0.9, -2.0, -0.9,
                  -0.9, -1.6, -0.9, -0.9, -1.0, -3.0, -3.0, -2.6, -3.0, -3.0,
                  -3.0, -2.3, -2.6, -3.0, -2.8]
skiing_raw_steps = [0, 0.04, 0.1, 0.14, 0.18, 0.22, 0.3, 0.35, 0.4, 0.48, 0.52, 0.57,
                    0.62, 0.67, 0.8, 0.87, 0.92, 1.0, 1.05, 1.42, 1.47, 1.54, 1.61, 2.0]
skiing_raw = [-1.8, -1.0, -2.6, -3.0, -1.2, -1.3, -1.2, -3.0, -1.0, -1.0, -0.9, -1.7,
              -2.3, -1.6, -1.7, -2.0, -1.0, -1.1, -0.9, -0.9, -2.3, -0.9, -1.6, -1.6]
skiing_rainbow = [-2.0, -1.8, -1.65, -1.55, -1.5, -1.5, -1.55, -1.5, -1.45, -1.5, -1.5, -1.45, -1.45, -1.45, -1.4, -1.4, -1.4, -1.45, -1.45, -1.45, -1.4]

solaris_steps = [0, 0.03, 0.1, 0.2, 0.3, 0.4, 0.5, 0.6, 0.7, 0.8, 0.9, 1.0, 1.1, 1.2, 1.3, 1.4, 1.5, 1.6, 1.7, 1.8, 1.9, 2.0]
solaris_thinker = [0.3, 2.2, 2.4, 2.3, 2.2, 2.25, 2.2, 2.3, 2.35, 2.3, 2.35, 2.4, 2.3, 2.35, 2.25, 2.3, 2.35, 2.4, 2.3, 2.3, 2.3, 2.35]
solaris_raw = [0.0, 2.3, 2.35, 2.25, 2.2, 2.25, 2.3, 2.3, 2.4, 2.35, 2.4, 2.45, 2.4, 2.3, 2.4, 2.35, 2.4, 2.45, 2.3, 2.2, 2.2, 2.25]
solaris_rainbow_steps = [0, 0.03, 0.07, 0.13, 0.3, 0.34, 0.4, 0.5, 0.57, 0.64, 0.8, 0.97, 1.07, 1.14, 1.21, 1.27,
                         1.34, 1.44, 1.54, 1.61, 1.71, 1.81, 1.91, 2.0]
solaris_rainbow = [1.8, 2.2, 1.9, 2.1, 1.95, 1.75, 2.0, 2.9, 2.6, 2.5, 2.4, 2.45, 2.6, 2.35, 2.1, 1.8,
                   2.3, 2.4, 2.0, 1.9, 2.3, 2.05, 2.0, 1.95]

space_invaders_thinker_steps = [0, 0.15, 0.22, 0.27, 0.35, 0.42, 0.47, 0.58, 0.65, 0.68, 0.7, 0.78,
                                0.88, 0.98, 1.08, 1.19, 1.29, 1.39, 1.49, 1.59, 1.69, 1.8, 1.9, 2.0]
space_invaders_thinker = [0.0, 0.05, 0.2, 0.3, 0.6, 0.6, 0.2, 0.6, 0.9, 0.8, 0.05, 0.5,
                          1.0, 1.5, 2.2, 2.5, 2.7, 2.85, 3.0, 3.2, 3.4, 3.45, 3.65, 3.8]
space_invaders_raw = [0.0, 0.02, 0.03, 0.04, 0.05, 0.05, 0.06, 0.07, 0.08, 0.1, 0.12, 0.13, 0.15, 0.18, 0.2, 0.22, 0.25, 0.4, 0.55, 0.7, 0.85]
space_invaders_rainbow = [0.0, 0.05, 0.1, 0.15, 0.3, 0.45, 0.75, 1.0, 1.6, 1.45, 1.6, 2.0, 2.2, 2.0, 1.8, 1.8, 2.1, 2.0, 2.15, 1.8, 2.25]

star_gunner_thinker_steps = [0, 0.15, 0.31, 0.41, 0.48, 0.51, 0.64, 0.71, 0.81, 0.92, 1.02, 1.17, 1.32, 1.48, 1.63, 1.78, 1.88, 2.0]
star_gunner_thinker = [0.0, 0.0, 0.8, 1.3, 1.75, 0.0, 0.0, 0.8, 2.0, 3.5, 4.0, 4.7, 5.2, 5.8, 6.2, 6.6, 6.8, 6.9]
star_gunner_raw = [0.0, 0.05, 0.1, 0.2, 0.3, 0.55, 0.35, 0.6, 0.7, 0.8, 0.85, 0.95, 1.05, 1.2, 1.3, 1.4, 1.5, 1.55, 1.6, 1.65, 1.7]
star_gunner_rainbow = [0.0, 0.2, 0.5, 0.6, 0.65, 0.7, 0.75, 0.8, 0.85, 0.9, 0.95, 1.0, 1.05, 1.1, 1.12, 1.15, 1.2, 1.22, 1.25, 1.28, 1.3]

surround_thinker = [-1.0, -1.0, -0.8, -0.3, 0.0, 0.35, 0.4, 0.05, 0.2, 0.25, 0.35, 0.4, 0.4, 0.3, 0.45, 0.5, 0.45, 0.4, 0.45, 0.55, 0.47]
surround_raw = [-1.0, -0.95, -1.0, -1.0, -1.0, -1.0, -1.0, -1.0, -1.0, -1.0, -1.0]
surround_rainbow = [-1.0, -0.9, -0.3, 0.45, 0.75, 0.88, 0.9, 0.9, 0.9, 0.93, 0.95, 0.95, 0.96, 0.96, 0.96, 0.96, 0.96, 0.97, 0.97, 0.97, 0.98]

tennis_thinker_steps = [0, 0.15, 0.17, 0.22, 0.23, 0.3, 0.31, 0.35, 0.36, 0.4, 0.41, 0.45, 0.46,
                        0.5, 0.51, 0.56, 0.58, 0.65, 0.7, 0.8, 1.0, 1.2, 1.4, 1.6, 2.0]
tennis_thinker = [-2.4, -2.4, -2.2, -2.2, -2.0, -2.0, -1.75, -1.75, -1.5, -1.5, -1.25, -1.25, -1.0,
                  -1.0, -0.75, -0.75, -0.5, -0.45, -0.4, -0.37, -0.33, -0.28, -0.2, -0.17, -0.13]
tennis_raw_steps = [0, 0.3, 0.45, 0.55, 0.65, 0.75, 0.82, 0.89, 0.95, 1.02, 1.09, 1.15, 1.22, 1.29, 1.35, 1.42, 1.56, 1.73, 2.0]
tennis_raw = [-2.4, -2.4, -2.35, -2.2, -2.05, -2.05, -2.1, -1.9, -1.7, -1.0, -0.2, 0.5, 1.2, 1.6, 1.65, 1.62, 1.8, 1.95, 2.05]
tennis_rainbow_steps = [0, 0.04, 0.09, 1.0, 2.0]
tennis_rainbow = [-2.3, -1.2, 0.0, -0.02, -0.03]

time_pilot_thinker = [0.3, 0.25, 0.4, 0.6, 0.8, 0.95, 1.1, 1.3, 1.7, 2.5, 3.3, 3.8, 4.0, 4.5, 4.8, 5.5, 5.0, 5.2, 5.5, 5.5, 5.2]
time_pilot_raw = [0.2, 0.3, 0.4, 0.5, 0.65, 0.8, 0.95, 1.1, 1.3, 1.4, 1.45, 1.55, 2.1, 2.4, 2.7, 2.9, 3.1, 3.35, 3.7, 3.9, 4.3]
time_pilot_rainbow = [0.2, 0.4, 0.65, 0.9, 1.1, 1.2, 1.3, 1.35, 1.45, 1.48, 1.5, 1.5, 1.5, 1.5, 1.52, 1.55, 1.55, 1.6, 1.65, 1.7, 1.75]

tutankham_thinker = [0.2, 0.5, 1.2, 1.25, 1.3, 1.45, 1.65, 1.85, 1.95, 2.1, 2.2, 2.25, 2.3, 2.55, 2.7, 2.72, 2.75, 2.8, 2.5, 2.75, 2.6]
tutankham_raw = [0.15, 0.45, 0.5, 0.5, 0.52, 0.55, 0.5, 0.5, 0.52, 0.55, 0.55, 0.55, 0.58, 0.58, 0.6, 0.55, 0.55, 0.55, 0.55, 0.52, 0.5]
tutankham_rainbow = [0.4, 1.0, 1.3, 1.8, 1.85, 1.8, 2.2, 2.25, 2.25, 2.25, 2.25, 2.25, 2.28, 2.3, 2.3, 2.32, 2.38, 2.4, 2.42, 2.4, 2.4]

up_n_down_thinker = [0.0, 0.02, 0.05, 0.15, 0.4, 0.85, 1.35, 1.8, 2.2, 2.6, 2.8, 2.72, 2.65, 2.6, 2.5, 2.55, 2.75, 3.0, 3.25, 3.5, 3.7]
up_n_down_raw = [0.0, 0.05, 0.1, 0.25, 0.35, 0.4, 0.55, 0.75, 1.0, 1.25, 1.38, 1.42, 1.5, 1.55, 1.52, 1.52, 1.55, 1.55, 1.6, 1.65, 1.75]
up_n_down_rainbow = [0.05, 0.1, 0.2, 0.35, 0.45, 0.5, 0.55, 0.6, 0.65, 0.7, 0.72, 0.75, 0.7, 0.8, 0.85, 0.9, 0.9, 1.05, 0.95, 1.05, 0.9]

venture_thinker = [0.0, 0.0]
venture_raw = [0.0, 0.0]
venture_rainbow = [0.0, 0.0]

video_pinball_thinker = [0.1, 0.15, 0.3, 0.3, 0.5, 0.6, 0.5, 1.2, 1.5, 2.7, 2.4, 2.6, 2.2, 2.7, 3.2, 3.7, 4.0, 4.3, 4.5, 4.7, 4.8]
video_pinball_raw = [0.1, 0.15, 0.2, 0.25, 0.35, 0.6, 0.9, 1.3, 1.7, 1.9, 2.2, 2.1, 2.0, 2.0, 2.3, 2.5, 2.6, 2.3, 2.5, 2.2, 2.2]
video_pinball_rainbow = [0.3, 0.2, 0.7, 1.2, 3.5, 4.6, 5.0, 5.9, 5.2, 5.4, 5.6, 5.7, 5.6, 5.5, 5.8, 5.7, 5.6, 5.5, 5.6, 5.4, 4.8]

wizard_of_wor_thinker = [0.05, 0.08, 0.12, 0.2, 0.35, 0.5, 0.95, 1.2, 1.45, 1.55, 1.75, 1.95, 2.1, 2.2, 2.35, 2.5, 2.7, 2.8, 3.0, 2.9, 2.95]
wizard_of_wor_raw = [0.05, 0.08, 0.12, 0.15, 0.17, 0.2, 0.22, 0.25, 0.27, 0.28, 0.3, 0.32, 0.35, 0.38, 0.4, 0.42, 0.45, 0.48, 0.5, 0.55, 0.55]
wizard_of_wor_rainbow = [0.05, 0.3, 0.9, 1.25, 1.35, 1.4, 1.45, 1.4, 1.35, 1.45, 1.55, 1.4, 1.4, 1.4, 1.4, 1.45, 1.55, 1.45, 1.45, 1.5, 1.0]

yars_revenge_thinker = [0.05, 0.1, 0.15, 0.15, 0.18, 0.2, 0.25, 0.5, 0.5, 0.75, 0.8, 0.85, 0.95, 1.0, 1.05, 1.1, 1.18, 1.22, 1.27, 1.3, 1.33]
yars_revenge_raw = [0.05, 0.07, 0.08, 0.09, 0.1, 0.12, 0.15, 0.17, 0.2, 0.22, 0.25, 0.3, 0.4, 0.6, 0.65, 0.6, 0.65, 0.7, 0.75, 0.75, 0.72]
yars_revenge_rainbow = [0.05, 0.07, 0.08, 0.6, 0.6, 0.6, 0.65, 0.68, 0.7, 0.7, 0.72, 0.74, 0.75, 0.78, 0.8, 0.8, 0.82, 0.83, 0.85, 1.05, 0.9]

zaxxon_thinker = [0.0, 0.0, 0.05, 0.5, 0.9, 1.1, 1.3, 1.4, 1.5, 1.5, 1.55, 1.65, 1.7, 1.72, 1.75, 1.8, 1.9, 1.92, 1.95, 1.98, 2.0]
zaxxon_raw = [0.0, 0.0, 0.0, 0.0, 0.0]
zaxxon_rainbow = [0.0, 1.2, 1.8, 2.0, 2.05, 2.1, 1.9, 2.1, 1.9, 2.15, 2.0, 2.1, 1.9, 1.85, 2.0, 2.2, 1.9, 2.0, 1.9, 1.7, 1.45]

curves = [
    (alien_thinker, alien_raw, alien_rainbow),
    (amidar_thinker, amidar_raw, amidar_rainbow),
    (assault_thinker, assault_raw, assault_rainbow),
    (asterix_thinker, (asterix_raw_steps, asterix_raw), (asterix_rainbow_steps, asterix_rainbow)),
    ((asteroids_thinker_steps, asteroids_thinker), asteroids_raw, asteroids_rainbow),
    ((atlantis_thinker_steps, atlantis_thinker), (atlantis_raw_steps, atlantis_raw),
     (atlantis_rainbow_steps, atlantis_rainbow)),
    ((bank_heist_thinker_steps, bank_heist_thinker), (bank_heist_raw_steps, bank_heist_raw),
     (bank_heist_rainbow_steps, bank_heist_rainbow)),
    (battle_zone_thinker, battle_zone_raw, battle_zone_rainbow),
    (beam_rider_thinker, beam_rider_raw, beam_rider_rainbow),
    ((berzerk_thinker_steps, berzerk_thinker), (berzerk_raw_steps, berzerk_raw), berzerk_rainbow),
    (bowling_thinker, (bowling_raw_steps, bowling_raw), bowling_rainbow),
    (boxing_thinker, boxing_raw, (boxing_rainbow_steps, boxing_rainbow)),
    ((breakout_thinker_steps, breakout_thinker), (breakout_raw_steps, breakout_raw), breakout_rainbow),
    (centipede_thinker, centipede_raw, centipede_rainbow),
    (chopper_thinker, chopper_raw, chopper_rainbow),
    (crazy_climber_thinker, crazy_climber_raw, crazy_climber_rainbow),
    (defender_thinker, defender_raw, defender_rainbow),
    (demon_attack_thinker, demon_attack_raw, demon_attack_rainbow),
    (double_dunk_thinker, double_dunk_raw, double_dunk_rainbow),
    (enduro_thinker, (enduro_raw_steps, enduro_raw), (enduro_rainbow_steps, enduro_rainbow)),
    (fishing_derby_thinker, fishing_derby_raw, fishing_derby_rainbow),
    ((freeway_thinker_steps, freeway_thinker), freeway_raw, (freeway_rainbow_steps, freeway_rainbow)),
    (frostbite_thinker, (frostbite_raw_steps, frostbite_raw), frostbite_rainbow),
    (gopher_thinker, gopher_raw, gopher_rainbow),
    (gravitar_thinker, gravitar_raw, gravitar_rainbow),
    (hero_thinker, hero_raw, hero_rainbow),
    (ice_hockey_thinker, (ice_hockey_raw_steps, ice_hockey_raw), ice_hockey_rainbow),
    (jamesbond_thinker, jamesbond_raw, jamesbond_rainbow),
    ((kangaroo_thinker_steps, kangaroo_thinker), kangaroo_raw, kangaroo_rainbow),
    (krull_thinker, krull_raw, (krull_rainbow_steps, krull_rainbow)),
    (kung_fu_thinker, kung_fu_raw, kung_fu_rainbow),
    (montezuma_thinker, montezuma_raw, (montezuma_rainbow_steps, montezuma_rainbow)),
    (ms_pacman_thinker, ms_pacman_raw, ms_pacman_rainbow),
    (name_this_game_thinker, name_this_game_raw, name_this_game_rainbow),
    (phoenix_thinker, phoenix_raw, phoenix_rainbow),
    (pitfall_thinker, pitfall_raw, (pitfall_rainbow_steps, pitfall_rainbow)),
    ((pong_thinker_steps, pong_thinker), (pong_raw_steps, pong_raw), (pong_rainbow_steps, pong_rainbow)),
    (private_eye_thinker, (private_eye_raw_steps, private_eye_raw), (private_eye_rainbow_steps, private_eye_rainbow)),
    (qbert_thinker, qbert_raw, qbert_rainbow),
    ((riverraid_thinker_steps, riverraid_thinker), (riverraid_raw_steps, riverraid_raw), riverraid_rainbow),
    (road_runner_thinker, road_runner_raw, road_runner_rainbow),
    (robotank_thinker, robotank_raw, robotank_rainbow),
    (seaquest_thinker, seaquest_raw, seaquest_rainbow),
    ((skiing_thinker_steps, skiing_thinker), (skiing_raw_steps, skiing_raw), skiing_rainbow),
    ((solaris_steps, solaris_thinker), (solaris_steps, solaris_raw), (solaris_rainbow_steps, solaris_rainbow)),
    ((space_invaders_thinker_steps, space_invaders_thinker), space_invaders_raw, space_invaders_rainbow),
    ((star_gunner_thinker_steps, star_gunner_thinker), star_gunner_raw, star_gunner_rainbow),
    (surround_thinker, surround_raw, surround_rainbow),
    ((tennis_thinker_steps, tennis_thinker), (tennis_raw_steps, tennis_raw), (tennis_rainbow_steps, tennis_rainbow)),
    (time_pilot_thinker, time_pilot_raw, time_pilot_rainbow),
    (tutankham_thinker, tutankham_raw, tutankham_rainbow),
    (up_n_down_thinker, up_n_down_raw, up_n_down_rainbow),
    (venture_thinker, venture_raw, venture_rainbow),
    (video_pinball_thinker, video_pinball_raw, video_pinball_rainbow),
    (wizard_of_wor_thinker, wizard_of_wor_raw, wizard_of_wor_rainbow),
    (yars_revenge_thinker, yars_revenge_raw, yars_revenge_rainbow),
    (zaxxon_thinker, zaxxon_raw, zaxxon_rainbow),
]

# spread over seeds, only visible for a few games
bands = {"Battle Zone": battle_zone_band, "Double Dunk": double_dunk_band,
         "Name This Game": name_this_game_band, "Phoenix": phoenix_band, "Qbert": qbert_band}

labels = ["Thinker-augmented MDP", "Raw MDP", "Rainbow"]
colors = ["C0", "C1", "C2"]

fig, axes = plt.subplots(12, 5, figsize=(1376 / 92, 1932 / 92), dpi=92)
fig.subplots_adjust(left=0.0414, right=0.9964, bottom=0.0254, top=0.9845, wspace=0.191, hspace=0.205)
axes = axes.flatten()

for i, name in enumerate(games):
    ax = axes[i]
    scale = 10.0 ** exps[i]
    for j, data in enumerate(curves[i]):
        if isinstance(data, tuple):
            x = np.array(data[0]) * 1e8
            y = np.array(data[1]) * scale
        else:
            y = np.array(data) * scale
            x = np.linspace(0, 2e8, len(y))
        ax.plot(x, y, color=colors[j], lw=1.4, label=labels[j])
        if j == 0 and name in bands:
            b = np.array(bands[name]) * scale
            ax.fill_between(x, y - b, y + b, color=colors[j], alpha=0.3, lw=0)
    ax.set_title(name, fontsize=12)
    ax.set_xlim(-0.1e8, 2.1e8)
    ax.ticklabel_format(axis="y", style="sci", scilimits=(0, 0))
    if i < 52:
        ax.tick_params(labelbottom=False)
        ax.xaxis.offsetText.set_visible(False)

for ax in axes[len(games):]:
    ax.remove()

fig.legend(axes[0].get_lines(), labels, loc="center", bbox_to_anchor=(0.7195, 0.0484), fontsize=16)

fig.savefig("out.png", dpi=92)
